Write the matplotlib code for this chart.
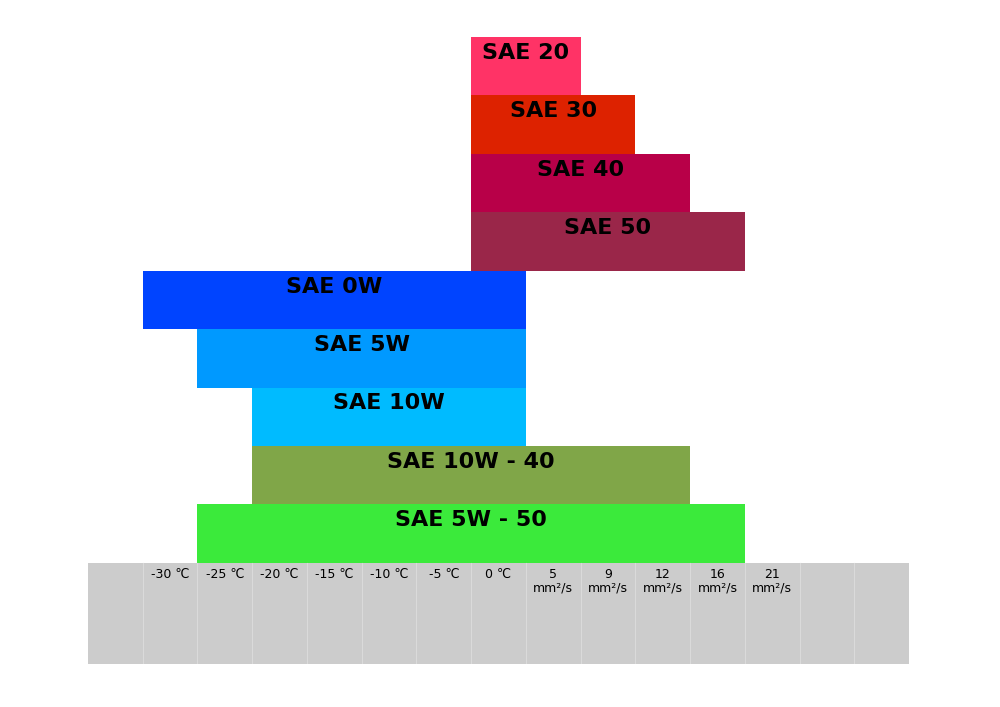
import matplotlib

matplotlib.use("Agg")
import matplotlib.pyplot as plt

# columns of the scale band (index 0..14)
column_labels = ["", "-30 ℃", "-25 ℃", "-20 ℃", "-15 ℃", "-10 ℃", "-5 ℃", "0 ℃",
                 "5\nmm²/s", "9\nmm²/s", "12\nmm²/s", "16\nmm²/s", "21\nmm²/s", "", ""]

grades = ["SAE 20", "SAE 30", "SAE 40", "SAE 50", "SAE 0W", "SAE 5W",
          "SAE 10W", "SAE 10W - 40", "SAE 5W - 50"]
grade_start = [7, 7, 7, 7, 1, 2, 3, 3, 2]
grade_end = [9, 10, 11, 12, 8, 8, 8, 11, 12]
grade_colors = ["#ff3366", "#dd2200", "#b80048", "#9a2649", "#0044ff", "#0099ff",
                "#00bbff", "#80a648", "#3bea3b"]

band_height = 101 / 58.4

fig = plt.figure(figsize=(10, 7.07), dpi=100)
ax = fig.add_axes([0.088, 43 / 707, 0.821, 627 / 707])
ax.set_xlim(0, len(column_labels))
ax.set_ylim(len(grades) + band_height, 0)
ax.axis("off")

for row, (name, x0, x1, color) in enumerate(zip(grades, grade_start, grade_end, grade_colors)):
    ax.add_patch(plt.Rectangle((x0, row), x1 - x0, 1, facecolor=color, edgecolor="none"))
    ax.text((x0 + x1) / 2, row + 0.1, name, ha="center", va="top",
            fontsize=16, fontweight="bold", color="black")

band_top = len(grades)
ax.add_patch(plt.Rectangle((0, band_top), len(column_labels), band_height,
                           facecolor="#cccccc", edgecolor="none"))
for i, label in enumerate(column_labels):
    if i > 0:
        ax.plot([i, i], [band_top, band_top + band_height], color="#dadada", lw=0.8)
    if label:
        ax.text(i + 0.5, band_top + 0.08, label, ha="center", va="top",
                fontsize=9, color="black", linespacing=1.1)

fig.savefig("out.png", dpi=100)
